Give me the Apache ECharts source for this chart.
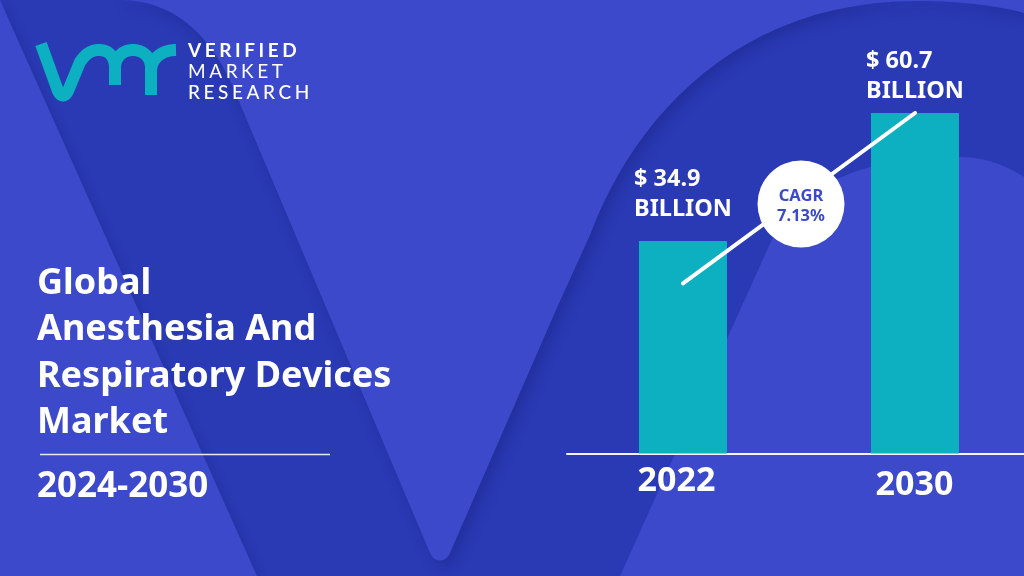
<!DOCTYPE html>
<html>
<head>
<meta charset="utf-8">
<title>Global Anesthesia And Respiratory Devices Market</title>
<style>
html, body { margin: 0; padding: 0; background: #3b49ca; }
#chart { width: 1024px; height: 576px; }
</style>
<script src="https://cdn.jsdelivr.net/npm/echarts@6/dist/echarts.min.js"></script>
</head>
<body>
<div id="chart"></div>
<script>
var categories = ['2022', '2030']
var marketValues = [34.9, 60.7]
// the picture's bars do not start at zero, this lifts them to the height drawn
var baseOffset = [7.96, 7.96]
var cagrLine = [34.3, 68.66]
var titleText = 'Global\nAnesthesia And\nRespiratory Devices\nMarket'
var periodText = '2024-2030'
var cagrText = ['CAGR', '7.13%']
var logoWords = ['VERIFIED', 'MARKET', 'RESEARCH']

var LIGHT = '#3b49ca'
var DARK = '#2a3ab4'
var TEAL = '#0db0c0'
var FONT = '"Noto Sans", sans-serif'

// flatten a list of path steps to points, graphic polygons only take points
function flatten(steps) {
    var pts = []
    steps.forEach(function (s) {
        if (s.length === 2) { pts.push(s); return }
        var p0 = pts[pts.length - 1]
        for (var i = 1; i <= 24; i++) {
            var t = i / 24, u = 1 - t
            pts.push([
                u * u * u * p0[0] + 3 * u * u * t * s[0] + 3 * u * t * t * s[2] + t * t * t * s[4],
                u * u * u * p0[1] + 3 * u * u * t * s[1] + 3 * u * t * t * s[3] + t * t * t * s[5]
            ])
        }
    })
    return pts
}

var leftWedge = flatten([[0, 0], [0, 576], [257, 576]])
var centerV = flatten([
    [120, -2], [120, 0], [165, 0, 205, 25, 232, 85], [430, 553], [434, 563, 446, 563, 450, 553],
    [556, 310], [590, 235], [635, 115, 740, 1, 917, 1], [960, 1, 1000, 6, 1024, 13], [1024, -2]
])
var rightHump = flatten([
    [620, 576], [773, 237], [805, 180, 870, 157, 960, 157], [985, 157, 1005, 165, 1024, 177], [1024, 576]
])

var logoStrokes = [
    flatten([[41, 44], [58, 91], [61, 97, 65, 97, 68, 91], [80, 62], [85, 55, 90, 50, 99, 50], [110, 50, 115, 58, 115, 68], [115, 85]]),
    flatten([[115, 68], [115, 58, 122, 50, 133, 50], [144, 50, 151, 58, 151, 68], [151, 95]]),
    flatten([[151, 70], [152, 58, 162, 50, 176, 50]])
]

function wordmark(word, y, weight) {
    return {
        type: 'text', z: 5, x: 188, y: y,
        style: {
            text: word.split('').join('\u2009\u200a'),
            font: weight + ' 19px Lato, sans-serif',
            fill: '#fff', textVerticalAlign: 'middle'
        }
    }
}

var graphics = [
    { type: 'polygon', z: -10, shape: { points: leftWedge }, style: { fill: LIGHT, shadowBlur: 8, shadowColor: 'rgba(20,30,120,.25)', shadowOffsetX: 3 } },
    { type: 'polygon', z: -9, shape: { points: rightHump }, style: { fill: LIGHT } },
    { type: 'polygon', z: -8, shape: { points: centerV }, style: { fill: LIGHT, shadowBlur: 14, shadowColor: 'rgba(20,30,120,.4)', shadowOffsetX: 5, shadowOffsetY: 5 } },
    { type: 'line', z: 5, shape: { x1: 40, y1: 454.5, x2: 330, y2: 454.5 }, style: { stroke: '#e8eaf8', lineWidth: 1.5 } },
    { type: 'text', z: 5, x: 37, y: 487, style: { text: periodText, font: '700 35px ' + FONT, fill: '#fff', textVerticalAlign: 'middle' } },
    wordmark(logoWords[0], 51, 700),
    wordmark(logoWords[1], 72, 400),
    wordmark(logoWords[2], 93, 500),
    { type: 'circle', z: 10, shape: { cx: 801, cy: 204, r: 43.5 }, style: { fill: '#fff' } },
    { type: 'text', z: 11, x: 801, y: 196, style: { text: cagrText[0], font: '700 16.5px ' + FONT, fill: LIGHT, textAlign: 'center', textVerticalAlign: 'middle' } },
    { type: 'text', z: 11, x: 801, y: 216, style: { text: cagrText[1], font: '700 16.5px ' + FONT, fill: LIGHT, textAlign: 'center', textVerticalAlign: 'middle' } }
]
logoStrokes.forEach(function (pts) {
    graphics.push({ type: 'polyline', z: 5, shape: { points: pts }, style: { stroke: TEAL, fill: null, lineWidth: 12, lineJoin: 'round' } })
})

var draw = echarts.init(document.getElementById('chart'))
draw.setOption({
    animation: false,
    backgroundColor: DARK,
    title: {
        text: titleText, left: 32, top: 255,
        textStyle: { color: '#fff', fontFamily: FONT, fontSize: 36, fontWeight: 700, lineHeight: 46.5 }
    },
    graphic: { elements: graphics },
    grid: { left: 567, top: 113, width: 464, height: 340.5, outerBoundsMode: 'none' },
    xAxis: [{
        type: 'category', data: categories,
        axisTick: { show: false },
        axisLine: { lineStyle: { color: '#f2f3fb', width: 2 } },
        axisLabel: {
            margin: 11,
            formatter: function (v) { return v === categories[0] ? '{a|' + v + '}' : '{b|' + v + '}' },
            rich: {
                a: { color: '#fff', fontFamily: FONT, fontSize: 34, fontWeight: 700, padding: [0, 13, 4, 0] },
                b: { color: '#fff', fontFamily: FONT, fontSize: 34, fontWeight: 700, padding: [4, 1, 0, 0] }
            }
        }
    }],
    yAxis: [{ type: 'value', min: 0, max: 68.66, show: false }],
    series: [
        { type: 'bar', stack: 'bars', barWidth: 88, data: baseOffset, itemStyle: { color: TEAL }, silent: true },
        {
            type: 'bar', stack: 'bars', barWidth: 88,
            itemStyle: { color: TEAL },
            data: marketValues.map(function (v, i) {
                return { value: v, label: { offset: [0, i === 0 ? -13 : -3] } }
            }),
            label: {
                show: true, position: 'top', distance: 4,
                formatter: function (p) { return '{a|$ ' + p.value + '}\n{a|BILLION}' },
                rich: { a: { color: '#fff', fontFamily: FONT, fontSize: 23.5, fontWeight: 700, lineHeight: 30, align: 'left' } }
            }
        },
        {
            type: 'line', data: cagrLine, symbol: 'none', z: 5, silent: true,
            lineStyle: { color: '#fff', width: 4, cap: 'round' }
        }
    ]
})
</script>
</body>
</html>
